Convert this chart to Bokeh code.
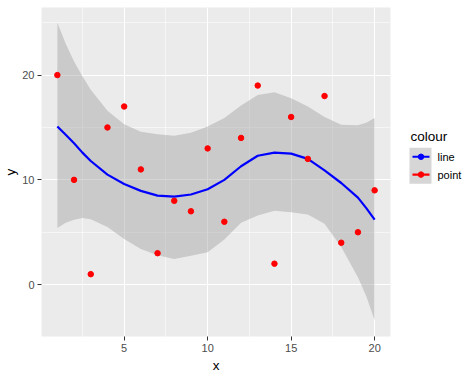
from bokeh.plotting import figure
from bokeh.layouts import row
from bokeh.models import FixedTicker, Range1d
from bokeh.embed import file_html
from bokeh.resources import INLINE
from bokeh.core.properties import value

# ---- data ----
x_pts = [1, 2, 3, 4, 5, 6, 7, 8, 9, 10, 11, 12, 13, 14, 15, 16, 17, 18, 19, 20]
y_pts = [20, 10, 1, 15, 17, 11, 3, 8, 7, 13, 6, 14, 19, 2, 16, 12, 18, 4, 5, 9]

fit_x = [1, 1.5, 2, 2.5, 3, 4, 5, 6, 7, 8, 9, 10, 11, 12, 13, 14, 15, 16, 17, 18, 19, 19.5, 20]
fit_y = [15.1, 14.3, 13.5, 12.6, 11.8, 10.5, 9.6, 8.95, 8.5, 8.4, 8.6, 9.1, 10.0, 11.3, 12.3, 12.6,
         12.5, 12.0, 10.9, 9.7, 8.3, 7.3, 6.2]
fit_upper = [25.0, 23.0, 21.3, 19.9, 18.6, 16.6, 15.3, 14.6, 14.35, 14.2, 14.5, 15.1, 15.9, 17.1,
             18.1, 18.35, 17.8, 17.0, 16.0, 15.25, 15.2, 15.45, 15.9]
fit_lower = [5.4, 5.9, 6.2, 6.35, 6.25, 5.5, 4.35, 3.4, 2.8, 2.45, 2.75, 3.1, 4.3, 5.9, 6.6, 7.05,
             6.9, 6.7, 5.8, 3.6, 0.7, -1.1, -3.4]

x_ticks = [5, 10, 15, 20]
x_minor = [2.5, 7.5, 12.5, 17.5]
y_ticks = [0, 10, 20]
y_minor = [-5, 5, 15, 25]

legend_title = "colour"
legend_labels = ["line", "point"]
legend_colors = ["#0000FF", "#FF0000"]

FONT = "Liberation Sans"
PANEL = "#EBEBEB"

# ---- main plot ----
p = figure(width=395, height=378, output_backend="svg", toolbar_location=None,
           x_range=Range1d(0.05, 20.95), y_range=Range1d(-4.95, 26.45),
           min_border_left=40, min_border_right=5, min_border_top=7, min_border_bottom=42)
p.background_fill_color = PANEL
p.border_fill_color = "white"
p.outline_line_color = None

p.xaxis.ticker = FixedTicker(ticks=x_ticks, minor_ticks=x_minor)
p.yaxis.ticker = FixedTicker(ticks=y_ticks, minor_ticks=y_minor)
for g in (p.xgrid, p.ygrid):
    g.grid_line_color = "white"
    g.grid_line_width = 1.1
    g.minor_grid_line_color = "white"
    g.minor_grid_line_width = 0.55

for ax in (p.xaxis, p.yaxis):
    ax.axis_line_color = None
    ax.major_tick_line_color = "#333333"
    ax.major_tick_in = 0
    ax.major_tick_out = 4
    ax.minor_tick_line_color = None
    ax.major_label_text_font = FONT
    ax.major_label_text_font_size = "11px"
    ax.major_label_text_color = "#4D4D4D"
    ax.axis_label_text_font = FONT
    ax.axis_label_text_font_size = "13.5px"
    ax.axis_label_text_font_style = "normal"
    ax.axis_label_text_color = "black"
p.xaxis.axis_label = "x"
p.yaxis.axis_label = "y"
p.xaxis.major_label_standoff = 3
p.yaxis.major_label_standoff = 3
p.xaxis.axis_label_standoff = 3
p.yaxis.axis_label_standoff = 1

p.varea(x=fit_x, y1=fit_lower, y2=fit_upper, fill_color="#999999", fill_alpha=0.4)
p.line(fit_x, fit_y, line_color=legend_colors[0], line_width=2.2)
p.scatter(x_pts, y_pts, size=5.5, fill_color=legend_colors[1], line_color=legend_colors[1])

# ---- legend panel ----
leg = figure(width=79, height=378, output_backend="svg", toolbar_location=None,
             x_range=Range1d(0, 79), y_range=Range1d(378, 0),
             min_border_left=0, min_border_right=0, min_border_top=0, min_border_bottom=0)
leg.axis.visible = False
leg.grid.visible = False
leg.outline_line_color = None
leg.background_fill_color = "white"
leg.border_fill_color = "white"

leg.text(x=[15], y=[148], text=[legend_title], text_font=value(FONT), text_font_size="13.5px",
         text_baseline="middle", text_align="left", text_color="black")
key_y = [171.5, 192]
leg.quad(left=14, right=36, top=161, bottom=202.5, fill_color="#999999", fill_alpha=0.4,
         line_color=None)
for yy, c, lab in zip(key_y, legend_colors, legend_labels):
    leg.line([17, 34], [yy, yy], line_color=c, line_width=2.2)
    leg.scatter([25.5], [yy], size=5.5, fill_color=c, line_color=c)
    leg.text(x=[42], y=[yy], text=[lab], text_font=value(FONT), text_font_size="11px",
             text_baseline="middle", text_align="left", text_color="black")

layout = row(p, leg, spacing=0)
open("out.html", "w").write(file_html(layout, INLINE))
